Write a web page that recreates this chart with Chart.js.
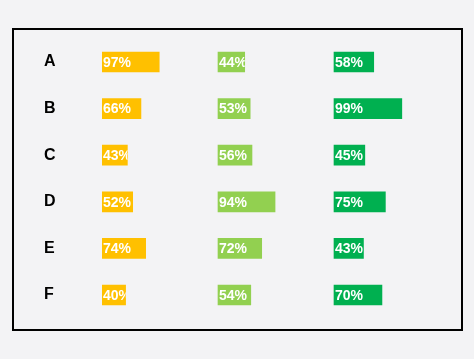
<!DOCTYPE html>
<html lang="en">
<head>
    <meta charset="UTF-8">
    <title>Bar table</title>
    <script src="https://cdn.jsdelivr.net/npm/chart.js"></script>
    <style>
        body {
            margin: 0;
            background-color: #f3f3f5;
        }
        canvas {
            display: block;
        }
    </style>
</head>
<body>
    <canvas id="barTable" width="474" height="359"></canvas>

    <script>
        // Data
        const rows = ['A', 'B', 'C', 'D', 'E', 'F'];
        const serie1 = [97, 66, 43, 52, 74, 40];
        const serie2 = [44, 53, 56, 94, 72, 54];
        const serie3 = [58, 99, 45, 75, 43, 70];
        const couleurs = ['#FFC000', '#92D050', '#00B050'];

        // Layout of the columns (pixels)
        const labelLeft = 44;
        const areaLeft = 102;
        const areaRight = 462;
        const colStart = [102, 218, 334];
        const pxPerPct = [0.59, 0.607, 0.685];

        function axisFor(i) {
            const w = areaRight - areaLeft;
            const min = -(colStart[i] - areaLeft) / pxPerPct[i];
            return {
                type: 'linear',
                position: 'bottom',
                display: false,
                min: min,
                max: min + w / pxPerPct[i]
            };
        }

        // Border around the table
        const cadre = {
            id: 'cadre',
            afterDraw(chart) {
                const ctx = chart.ctx;
                ctx.save();
                ctx.strokeStyle = '#000000';
                ctx.lineWidth = 2;
                ctx.strokeRect(13, 29, 449, 301);
                ctx.restore();
            }
        };

        // White value labels, clipped to the bar
        const etiquettes = {
            id: 'etiquettes',
            afterDatasetsDraw(chart) {
                const ctx = chart.ctx;
                chart.data.datasets.forEach((ds, di) => {
                    const meta = chart.getDatasetMeta(di);
                    meta.data.forEach((bar, i) => {
                        const h = bar.height;
                        ctx.save();
                        ctx.beginPath();
                        ctx.rect(bar.base, bar.y - h / 2, bar.x - bar.base, h);
                        ctx.clip();
                        ctx.fillStyle = '#ffffff';
                        ctx.font = 'bold 14px "Liberation Sans", Arial, sans-serif';
                        ctx.textAlign = 'left';
                        ctx.textBaseline = 'middle';
                        ctx.fillText(ds.data[i] + '%', bar.base + 1, bar.y + 1);
                        ctx.restore();
                    });
                });
            }
        };

        const ctx = document.getElementById('barTable').getContext('2d');
        const barTable = new Chart(ctx, {
            type: 'bar',
            data: {
                labels: rows,
                datasets: [
                    { label: 'S1', data: serie1, xAxisID: 'x1', backgroundColor: couleurs[0] },
                    { label: 'S2', data: serie2, xAxisID: 'x2', backgroundColor: couleurs[1] },
                    { label: 'S3', data: serie3, xAxisID: 'x3', backgroundColor: couleurs[2] }
                ]
            },
            options: {
                responsive: false,
                animation: false,
                indexAxis: 'y',
                layout: {
                    padding: { left: labelLeft, right: 474 - areaRight, top: 38.7, bottom: 40.7 }
                },
                datasets: {
                    bar: {
                        grouped: false,
                        barThickness: 20,
                        borderWidth: 0
                    }
                },
                scales: {
                    y: {
                        type: 'category',
                        position: 'left',
                        border: { display: false },
                        grid: { display: false, drawTicks: false },
                        ticks: {
                            color: '#000000',
                            crossAlign: 'far',
                            padding: 0,
                            font: { family: '"Liberation Sans", Arial, sans-serif', size: 16, weight: 'bold' }
                        },
                        afterFit(axis) {
                            axis.width = areaLeft - labelLeft;
                        }
                    },
                    x1: axisFor(0),
                    x2: axisFor(1),
                    x3: axisFor(2)
                },
                plugins: {
                    legend: { display: false },
                    tooltip: { enabled: false }
                }
            },
            plugins: [cadre, etiquettes]
        });
    </script>
</body>
</html>
